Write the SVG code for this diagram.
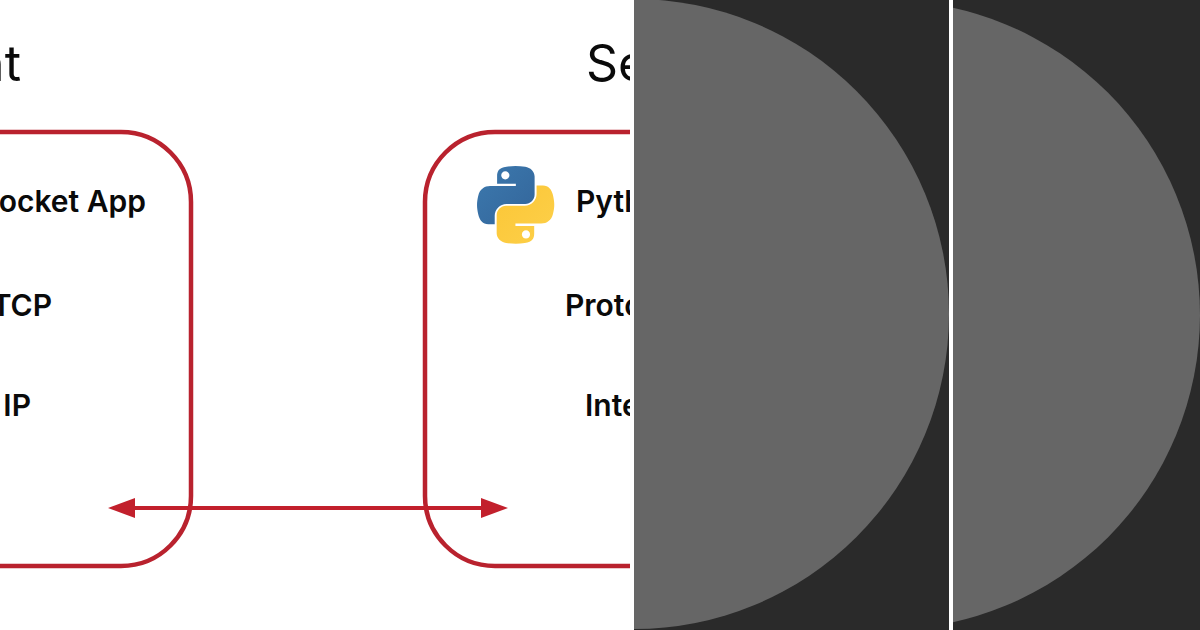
<svg xmlns="http://www.w3.org/2000/svg" width="1200" height="630" viewBox="0 0 1200 630">
<style>
.box{fill:none;stroke:#b9222e;stroke-width:4.5}
.conn{fill:none;stroke:#c2202c;stroke-width:4}
.title{font-family:"Inter","Noto Sans",sans-serif;font-size:50px;font-weight:400;fill:#0a0a0a}
.label{font-family:"Inter","Noto Sans",sans-serif;font-size:30px;font-weight:600;fill:#0a0a0a}
.panel{fill:#2a2a2a}
.disc{fill:#666}
</style>
<defs>
<marker id="ah" markerUnits="userSpaceOnUse" markerWidth="28" markerHeight="22" refX="3" refY="10.5" orient="auto-start-reverse"><path d="M0,0.5 L27,10.5 L0,20.5 Z" fill="#c2202c"/></marker>
<clipPath id="cutServer"><rect x="400" y="0" width="230" height="630"/></clipPath>
<clipPath id="p1"><rect x="634" y="0" width="315" height="630"/></clipPath>
<clipPath id="p2"><rect x="953" y="0" width="247" height="630"/></clipPath>
<linearGradient id="pyb" x1="0" y1="0" x2="1" y2="1"><stop offset="0" stop-color="#3c79ae"/><stop offset="1" stop-color="#33659a"/></linearGradient>
<linearGradient id="pyy" x1="0" y1="0" x2="1" y2="1"><stop offset="0" stop-color="#fdd04a"/><stop offset="1" stop-color="#fbc636"/></linearGradient>
</defs>
<rect width="1200" height="630" fill="#fff"/>
<g id="client">
<path class="box" d="M0,132 H121 A70,70 0 0 1 191,202 V496 A70,70 0 0 1 121,566 H0"/>
<text class="title" x="21" y="81" text-anchor="end">nt</text>
<text class="label" x="146" y="212" text-anchor="end">ocket App</text>
<text class="label" x="52" y="316" text-anchor="end">TCP</text>
<text class="label" x="31" y="416" text-anchor="end">IP</text>
</g>
<g id="server">
<path class="box" d="M630,132 H495 A70,70 0 0 0 425,202 V496 A70,70 0 0 0 495,566 H630"/>
<g clip-path="url(#cutServer)">
<text class="title" x="586" y="81">Se</text>
<text class="label" x="576" y="212">Pyth</text>
<text class="label" x="565" y="316">Proto</text>
<text class="label" x="585" y="416">Inte</text>
</g>
<g id="python-logo" transform="translate(477,166) scale(0.7)">
<path fill="url(#pyb)" d="M54.9,0 C50.3,0 46,0.4 42.1,1.1 C30.8,3.1 28.7,7.3 28.7,15 V25.3 H55.5 V28.7 H18.6 C10.8,28.7 4,33.3 1.9,42.3 C-0.6,52.5 -0.6,58.8 1.9,69.5 C3.8,77.4 8.3,83.1 16.1,83.1 H25.3 V70.9 C25.3,62 33,54.2 42.1,54.2 H68.9 C76.3,54.2 82.3,48 82.3,40.6 V15 C82.3,7.8 76.2,2.3 68.9,1.1 C64.3,0.3 59.5,0 54.9,0 Z M40.4,7.4 C43.6,7.4 46.3,10 46.3,13.3 C46.3,16.6 43.6,19.2 40.4,19.2 C37.2,19.2 34.6,16.6 34.6,13.3 C34.6,10 37.2,7.4 40.4,7.4 Z"/>
<path fill="url(#pyy)" transform="rotate(180 55.2 55.5)" d="M54.9,0 C50.3,0 46,0.4 42.1,1.1 C30.8,3.1 28.7,7.3 28.7,15 V25.3 H55.5 V28.7 H18.6 C10.8,28.7 4,33.3 1.9,42.3 C-0.6,52.5 -0.6,58.8 1.9,69.5 C3.8,77.4 8.3,83.1 16.1,83.1 H25.3 V70.9 C25.3,62 33,54.2 42.1,54.2 H68.9 C76.3,54.2 82.3,48 82.3,40.6 V15 C82.3,7.8 76.2,2.3 68.9,1.1 C64.3,0.3 59.5,0 54.9,0 Z M40.4,7.4 C43.6,7.4 46.3,10 46.3,13.3 C46.3,16.6 43.6,19.2 40.4,19.2 C37.2,19.2 34.6,16.6 34.6,13.3 C34.6,10 37.2,7.4 40.4,7.4 Z"/>
</g>
</g>
<g id="connectors">
<path class="conn" d="M132,508 H484" marker-start="url(#ah)" marker-end="url(#ah)"/>
</g>
<g id="panel-1">
<rect class="panel" x="634" y="0" width="315" height="630"/>
<circle class="disc" cx="634" cy="314" r="315" clip-path="url(#p1)"/>
</g>
<g id="panel-2">
<rect class="panel" x="953" y="0" width="247" height="630"/>
<circle class="disc" cx="885.5" cy="315" r="314.5" clip-path="url(#p2)"/>
</g>
</svg>
